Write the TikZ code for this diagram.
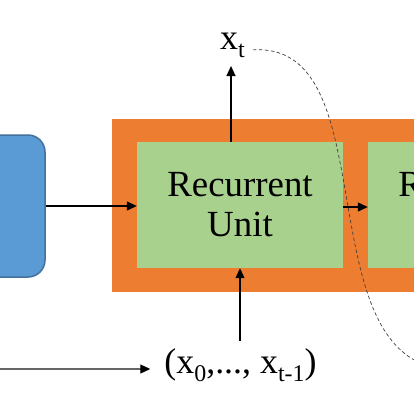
\documentclass[tikz,border=0pt]{standalone}
\usepackage{fontspec}
\setmainfont{Liberation Serif}
\usetikzlibrary{arrows.meta}
\definecolor{orng}{HTML}{ED7D31}
\definecolor{grn}{HTML}{A9D18E}
\definecolor{blu}{HTML}{5B9BD5}
\definecolor{bluedge}{HTML}{41719C}
\newcommand\sbs[1]{\raisebox{-8bp}{\fontsize{24}{24}\selectfont #1}}
\tikzset{
  unitbox/.style={fill=grn, draw=none, minimum width=206bp, minimum height=126bp, inner sep=0pt, align=center, font=\fontsize{37}{40}\selectfont},
  lbl/.style={inner sep=0pt, font=\fontsize{36}{39}\selectfont},
  arr/.style={line width=1.2bp, -{Triangle[length=10bp,width=9bp]}},
  dsh/.style={line width=0.7bp, black!75, dash pattern=on 3.5bp off 2.5bp}
}
\begin{document}
\begin{tikzpicture}[x=1bp,y=-1bp]
\useasboundingbox (0,0) rectangle (414,414);
\clip (0,0) rectangle (414,414);
\fill[white] (0,0) rectangle (414,414);
% blue block
\node[draw=bluedge, line width=1.5bp, fill=blu, rounded corners=17bp, minimum width=85bp, minimum height=142bp, inner sep=0pt] (blk) at (2.5,206) {};
% orange container
\node[fill=orng, minimum width=320bp, minimum height=173bp, inner sep=0pt] (box) at (272,205.5) {};
% recurrent units
\node[unitbox] (g1) at (240,205) {Recurrent\\Unit};
\node[unitbox] (g2) at (471,205) {Recurrent\\Unit};
% labels
\node[lbl, anchor=base west] (xt) at (220,49) {x\sbs{t}};
\node[lbl, anchor=base] (xs) at (240.5,373) {(x\sbs{0},..., x\sbs{t-1})};
\coordinate (lin) at (-5,369);
\coordinate (cend) at (418,362);
% connectors
\draw[arr] (blk.east |- 0,206) -- (g1.west |- 0,206);
\draw[arr] (g1.east |- 0,207) -- (g2.west |- 0,207);
\draw[arr] (g1.north -| 231,0) -- (231,66);
\draw[arr] (xs.north -| 240,0) ++(0,-7) -- (g1.south -| 240,0);
\draw[line width=1.2bp, black!60, -{Triangle[length=10bp,width=9bp,black]}] (lin) -- ([xshift=-14bp]xs.west |- 0,369);
\draw[dsh] ([xshift=8bp,yshift=-5bp]xt.east) .. controls (378,42) and (316,312) .. (cend);
\end{tikzpicture}
\end{document}
